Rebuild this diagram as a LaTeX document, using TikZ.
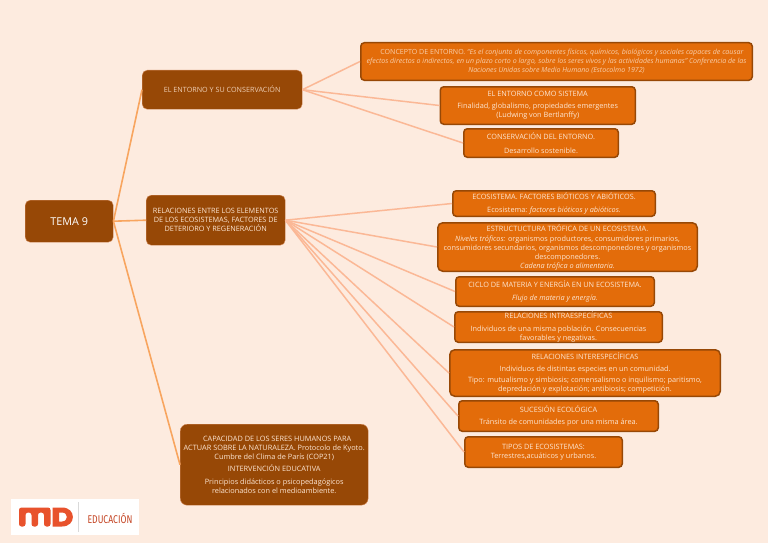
\documentclass[tikz,border=0pt]{standalone}
\usepackage{fontspec}
\setmainfont{Open Sans}
\newfontfamily\logofont{Fira Sans}
\definecolor{bgc}{HTML}{FDEBDF}
\definecolor{orangec}{HTML}{E36C0A}
\definecolor{brownc}{HTML}{974806}
\definecolor{edgeA}{HTML}{F8A55F}
\definecolor{edgeB}{HTML}{FBB896}
\definecolor{txtc}{HTML}{FDE6D3}
\definecolor{logoc}{HTML}{E8522C}
\tikzset{
  x=1pt,y=-1pt,
  basebox/.style={rectangle,rounded corners=3.5pt,anchor=north west,inner sep=0pt,align=center,text=txtc,font=\fontsize{7.3}{9}\selectfont},
  leafbox/.style={basebox,fill=orangec,draw=brownc,line width=1.5pt},
  mainbox/.style={basebox,fill=brownc,draw=edgeB!60!brownc,line width=.4pt,rounded corners=5pt},
  edgeone/.style={draw=edgeA,line width=1.6pt},
  edgetwo/.style={draw=edgeB,line width=1.5pt},
  sz/.style 2 args={minimum width=#1,minimum height=#2},
  lz/.style 2 args={minimum width={#1-1.5pt},minimum height={#2-1.5pt}},
}
\newcommand{\gap}{\\[2.6pt]}
\newcommand{\biggap}{\\[3.8pt]}
\begin{document}
\begin{tikzpicture}
\useasboundingbox[fill=bgc] (0,0) rectangle (768,543);
% main topics
\node[mainbox,sz={88pt}{42pt},font=\fontsize{10.8}{12}\selectfont,text=white] (tema) at (25,200) {TEMA 9};
\node[mainbox,sz={160pt}{39pt},text=txtc!85!brownc,font=\fontsize{7.2}{9}\selectfont] (entorno) at (142,70) {\raisebox{1pt}{EL ENTORNO Y SU CONSERVACIÓN}};
\node[mainbox,sz={139pt}{50pt},font=\fontsize{7.3}{9}\selectfont] (relaciones) at (146,195) {RELACIONES ENTRE LOS ELEMENTOS\\DE LOS ECOSISTEMAS, FACTORES DE\\DETERIORO Y REGENERACIÓN};
\node[mainbox,sz={188pt}{81pt},rounded corners=7pt,font=\fontsize{7.35}{9}\selectfont] (capacidad) at (180,424) {\hspace*{6pt}CAPACIDAD DE LOS SERES HUMANOS PARA\\ACTUAR SOBRE LA NATURALEZA. Protocolo de Kyoto.\\Cumbre del Clima de París (COP21)\gap INTERVENCIÓN EDUCATIVA\biggap Principios didácticos o psicopedagógicos\\relacionados con el medioambiente.};
% leaves
\node[leafbox,lz={393pt}{39pt},text=txtc!80!orangec,font=\fontsize{7.05}{9}\selectfont] (concepto) at (360,42) {\hspace*{11pt}CONCEPTO DE ENTORNO. \textit{“Es el conjunto de componentes físicos, químicos, biológicos y sociales capaces de causar}\\\textit{efectos directos o indirectos, en un plazo corto o largo, sobre los seres vivos y las actividades humanas”  Conferencia de las}\\\textit{Naciones Unidas sobre Medio Humano (Estocolmo 1972)}};
\node[leafbox,lz={196.5pt}{39pt}] (sistema) at (439.5,86) {EL ENTORNO COMO SISTEMA\gap Finalidad, globalismo, propiedades emergentes\\(Ludwing von Bertlanffy)};
\node[leafbox,lz={156pt}{30pt}] (conservacion) at (463,128) {\raisebox{1pt}{CONSERVACIÓN DEL ENTORNO.}\biggap Desarrollo sostenible.};
\node[leafbox,lz={204pt}{27pt}] (ecosistema) at (452,190) {ECOSISTEMA. FACTORES BIÓTICOS Y ABIÓTICOS.\biggap Ecosistema: \textit{factores bióticos y abióticos.}};
\node[leafbox,lz={261pt}{50pt},rounded corners=5pt] (estructura) at (437,222) {\raisebox{1pt}{ESTRUCTUCTURA TRÓFICA DE UN ECOSISTEMA.}\\\textit{Niveles tróficos:} organismos productores, consumidores primarios,\\consumidores secundarios, organismos descomponedores y organismos\\descomponedores.\\\textit{Cadena trófica o alimentaria.}};
\node[leafbox,lz={200pt}{31pt}] (ciclo) at (455,276) {CICLO DE MATERIA Y ENERGÍA EN UN ECOSISTEMA.\biggap \textit{Flujo de materia y energía.}};
\node[leafbox,lz={209pt}{32pt}] (intra) at (454,311) {\raisebox{1pt}{RELACIONES INTRAESPECÍFICAS}\gap Individuos de una misma población. Consecuencias\\favorables y negativas.};
\node[leafbox,lz={272pt}{48pt},rounded corners=5pt] (inter) at (449,349) {RELACIONES INTERESPECÍFICAS\gap Individuos de distintas especies en un comunidad.\gap Tipo: mutualismo y simbiosis; comensalismo o inquilismo; paritismo,\\depredación y explotación; antibiosis; competición.};
\node[leafbox,lz={201pt}{32pt}] (sucesion) at (458,400) {SUCESIÓN ECOLÓGICA\biggap Tránsito de comunidades por una misma área.};
\node[leafbox,lz={159pt}{32pt}] (tipos) at (464,436) {TIPOS DE ECOSISTEMAS:\\Terrestres,acuáticos y urbanos.};
% connectors
\draw[edgeone] (tema.east) -- (entorno.west);
\draw[edgeone] (tema.east) -- (relaciones.west);
\draw[edgeone] (tema.east) -- (capacidad.west);
\foreach \n in {concepto,sistema,conservacion}{\draw[edgetwo] (entorno.east) -- (\n.west);}
\foreach \n in {ecosistema,estructura,ciclo,intra,inter,sucesion,tipos}{\draw[edgetwo] (relaciones.east) -- (\n.west);}
% logo
\fill[white] (11,499) rectangle (139,535);
\fill[logoc,rounded corners=2.5pt] (19,526.5) -- (19,507.5) -- (50.5,507.5) -- (50.5,526.5) -- (44,526.5) -- (44,512.5) -- (38,512.5) -- (38,526.5) -- (31.5,526.5) -- (31.5,512.5) -- (25.5,512.5) -- (25.5,526.5) -- cycle;
\fill[logoc,even odd rule] (52.5,507.5) -- (62,507.5) .. controls (76.5,507.5) and (76.5,526.5) .. (62,526.5) -- (52.5,526.5) -- cycle (59,512.5) -- (59,521.5) -- (62,521.5) .. controls (68.5,521.5) and (68.5,512.5) .. (62,512.5) -- cycle;
\draw[black!15,line width=.8pt] (78.5,502) -- (78.5,532);
\node[anchor=center,inner sep=0pt,text=logoc!85!black,font=\logofont\fontsize{9.8}{11}\selectfont] (logotxt) at (110,518) {\scalebox{.88}[1.15]{EDUCACIÓN}};
\end{tikzpicture}
\end{document}
